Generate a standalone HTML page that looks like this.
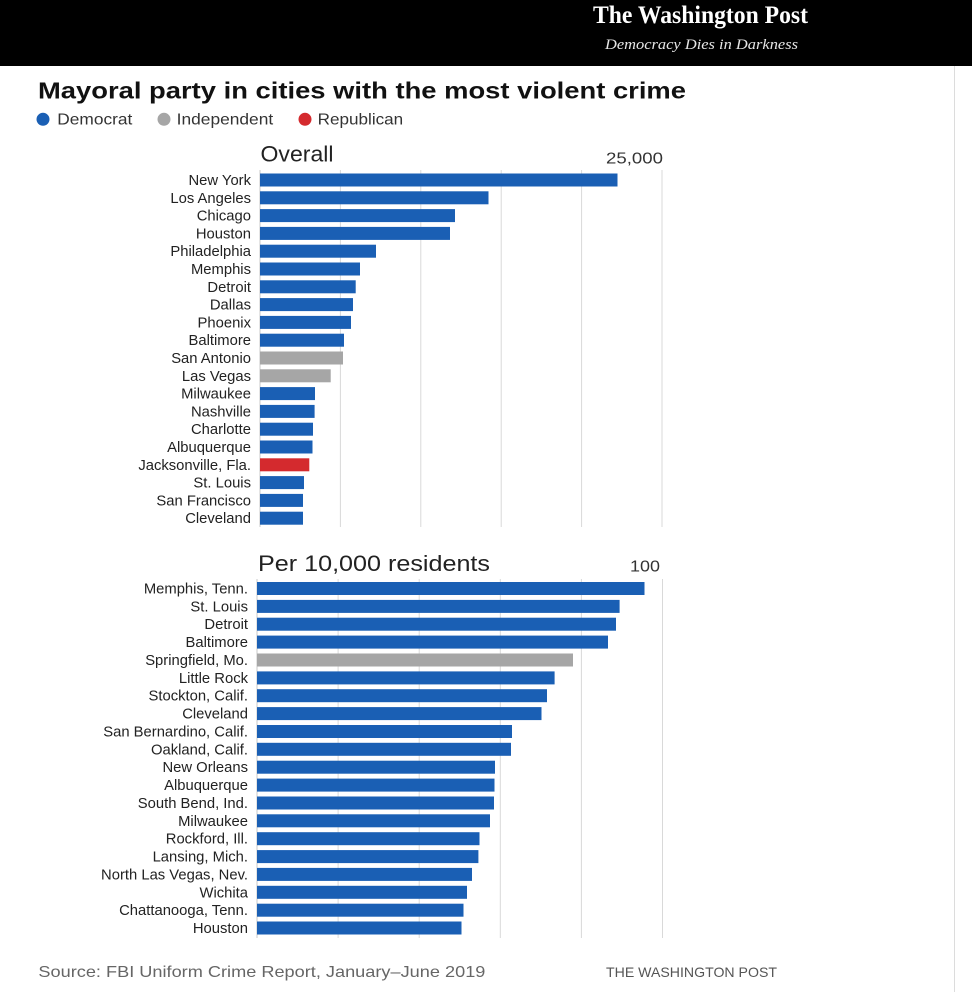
<!DOCTYPE html>
<html>
<head>
<meta charset="utf-8">
<style>
html,body{margin:0;padding:0;background:#fff;}
svg{display:block;}
text{font-family:"Liberation Sans",sans-serif;}
</style>
</head>
<body>
<svg width="972" height="992" viewBox="0 0 972 992" xmlns="http://www.w3.org/2000/svg">
<rect x="0" y="0" width="972" height="992" fill="#fff"/>
<!-- header -->
<rect x="0" y="0" width="972" height="66" fill="#000"/>
<text x="593" y="23" font-family="Liberation Serif, serif" font-weight="bold" font-size="25" fill="#fff" textLength="215" lengthAdjust="spacingAndGlyphs" style="font-family:'Liberation Serif',serif">The Washington Post</text>
<text x="605" y="49" font-style="italic" font-size="14.5" fill="#e6e6e6" textLength="193" lengthAdjust="spacingAndGlyphs" style="font-family:'Liberation Serif',serif">Democracy Dies in Darkness</text>
<!-- right border line -->
<line x1="954.5" y1="66" x2="954.5" y2="992" stroke="#dcdcdc" stroke-width="1"/>

<!-- title -->
<text x="38" y="98.5" font-size="23" font-weight="bold" fill="#111" textLength="648" lengthAdjust="spacingAndGlyphs">Mayoral party in cities with the most violent crime</text>
<!-- legend -->
<circle cx="43" cy="119.3" r="6.5" fill="#1a5fb4"/>
<text x="57.3" y="124.5" font-size="16" fill="#333" textLength="75" lengthAdjust="spacingAndGlyphs">Democrat</text>
<circle cx="164" cy="119.3" r="6.5" fill="#a6a6a6"/>
<text x="176.7" y="124.5" font-size="16" fill="#333" textLength="96.5" lengthAdjust="spacingAndGlyphs">Independent</text>
<circle cx="305" cy="119.3" r="6.5" fill="#d42a2e"/>
<text x="317.7" y="124.5" font-size="16" fill="#333" textLength="85.5" lengthAdjust="spacingAndGlyphs">Republican</text>

<!-- TOP CHART -->
<text x="260.5" y="161.5" font-size="22" fill="#222" textLength="73" lengthAdjust="spacingAndGlyphs">Overall</text>
<text x="606" y="163.3" font-size="16" fill="#333" textLength="57" lengthAdjust="spacingAndGlyphs">25,000</text>
<g stroke="#d9d9d9" stroke-width="1">
<line x1="260" y1="170" x2="260" y2="527" stroke="#c8c8c8"/>
<line x1="340.4" y1="170" x2="340.4" y2="527"/>
<line x1="420.8" y1="170" x2="420.8" y2="527"/>
<line x1="501.2" y1="170" x2="501.2" y2="527"/>
<line x1="581.6" y1="170" x2="581.6" y2="527"/>
<line x1="662" y1="170" x2="662" y2="527"/>
</g>
<g font-size="14.8" fill="#222" text-anchor="end">
<text x="251" y="185">New York</text>
<text x="251" y="202.8">Los Angeles</text>
<text x="251" y="220.6">Chicago</text>
<text x="251" y="238.4">Houston</text>
<text x="251" y="256.2">Philadelphia</text>
<text x="251" y="274">Memphis</text>
<text x="251" y="291.8">Detroit</text>
<text x="251" y="309.6">Dallas</text>
<text x="251" y="327.4">Phoenix</text>
<text x="251" y="345.2">Baltimore</text>
<text x="251" y="363">San Antonio</text>
<text x="251" y="380.8">Las Vegas</text>
<text x="251" y="398.6">Milwaukee</text>
<text x="251" y="416.4">Nashville</text>
<text x="251" y="434.2">Charlotte</text>
<text x="251" y="452">Albuquerque</text>
<text x="251" y="469.8">Jacksonville, Fla.</text>
<text x="251" y="487.6">St. Louis</text>
<text x="251" y="505.4">San Francisco</text>
<text x="251" y="523.2">Cleveland</text>
</g>
<g>
<rect x="260" y="173.5" width="357.5" height="13" fill="#1a5fb4"/>
<rect x="260" y="191.3" width="228.5" height="13" fill="#1a5fb4"/>
<rect x="260" y="209.1" width="195" height="13" fill="#1a5fb4"/>
<rect x="260" y="226.9" width="190" height="13" fill="#1a5fb4"/>
<rect x="260" y="244.7" width="116" height="13" fill="#1a5fb4"/>
<rect x="260" y="262.5" width="100" height="13" fill="#1a5fb4"/>
<rect x="260" y="280.3" width="95.7" height="13" fill="#1a5fb4"/>
<rect x="260" y="298.1" width="93" height="13" fill="#1a5fb4"/>
<rect x="260" y="315.9" width="91" height="13" fill="#1a5fb4"/>
<rect x="260" y="333.7" width="84" height="13" fill="#1a5fb4"/>
<rect x="260" y="351.5" width="83" height="13" fill="#a6a6a6"/>
<rect x="260" y="369.3" width="70.7" height="13" fill="#a6a6a6"/>
<rect x="260" y="387.1" width="55" height="13" fill="#1a5fb4"/>
<rect x="260" y="404.9" width="54.6" height="13" fill="#1a5fb4"/>
<rect x="260" y="422.7" width="53" height="13" fill="#1a5fb4"/>
<rect x="260" y="440.5" width="52.5" height="13" fill="#1a5fb4"/>
<rect x="260" y="458.3" width="49.3" height="13" fill="#d42a2e"/>
<rect x="260" y="476.1" width="44" height="13" fill="#1a5fb4"/>
<rect x="260" y="493.9" width="43" height="13" fill="#1a5fb4"/>
<rect x="260" y="511.7" width="43" height="13" fill="#1a5fb4"/>
</g>

<!-- BOTTOM CHART -->
<text x="258" y="571" font-size="22" fill="#222" textLength="232" lengthAdjust="spacingAndGlyphs">Per 10,000 residents</text>
<text x="630" y="571.5" font-size="16" fill="#333" textLength="30" lengthAdjust="spacingAndGlyphs">100</text>
<g stroke="#d9d9d9" stroke-width="1">
<line x1="257" y1="579" x2="257" y2="938" stroke="#c8c8c8"/>
<line x1="338.1" y1="579" x2="338.1" y2="938"/>
<line x1="419.2" y1="579" x2="419.2" y2="938"/>
<line x1="500.3" y1="579" x2="500.3" y2="938"/>
<line x1="581.4" y1="579" x2="581.4" y2="938"/>
<line x1="662.5" y1="579" x2="662.5" y2="938"/>
</g>
<g font-size="14.8" fill="#222" text-anchor="end">
<text x="248" y="593.5">Memphis, Tenn.</text>
<text x="248" y="611.4">St. Louis</text>
<text x="248" y="629.2">Detroit</text>
<text x="248" y="647.1">Baltimore</text>
<text x="248" y="665">Springfield, Mo.</text>
<text x="248" y="682.9">Little Rock</text>
<text x="248" y="700.7">Stockton, Calif.</text>
<text x="248" y="718.6">Cleveland</text>
<text x="248" y="736.5">San Bernardino, Calif.</text>
<text x="248" y="754.3">Oakland, Calif.</text>
<text x="248" y="772.2">New Orleans</text>
<text x="248" y="790.1">Albuquerque</text>
<text x="248" y="808">South Bend, Ind.</text>
<text x="248" y="825.8">Milwaukee</text>
<text x="248" y="843.7">Rockford, Ill.</text>
<text x="248" y="861.6">Lansing, Mich.</text>
<text x="248" y="879.4">North Las Vegas, Nev.</text>
<text x="248" y="897.3">Wichita</text>
<text x="248" y="915.2">Chattanooga, Tenn.</text>
<text x="248" y="933">Houston</text>
</g>
<g>
<rect x="257" y="582" width="387.5" height="13" fill="#1a5fb4"/>
<rect x="257" y="599.9" width="362.6" height="13" fill="#1a5fb4"/>
<rect x="257" y="617.7" width="359" height="13" fill="#1a5fb4"/>
<rect x="257" y="635.6" width="351" height="13" fill="#1a5fb4"/>
<rect x="257" y="653.5" width="316" height="13" fill="#a6a6a6"/>
<rect x="257" y="671.4" width="297.6" height="13" fill="#1a5fb4"/>
<rect x="257" y="689.2" width="290" height="13" fill="#1a5fb4"/>
<rect x="257" y="707.1" width="284.5" height="13" fill="#1a5fb4"/>
<rect x="257" y="725" width="255" height="13" fill="#1a5fb4"/>
<rect x="257" y="742.8" width="254" height="13" fill="#1a5fb4"/>
<rect x="257" y="760.7" width="238" height="13" fill="#1a5fb4"/>
<rect x="257" y="778.6" width="237.5" height="13" fill="#1a5fb4"/>
<rect x="257" y="796.5" width="237" height="13" fill="#1a5fb4"/>
<rect x="257" y="814.3" width="233" height="13" fill="#1a5fb4"/>
<rect x="257" y="832.2" width="222.5" height="13" fill="#1a5fb4"/>
<rect x="257" y="850.1" width="221.4" height="13" fill="#1a5fb4"/>
<rect x="257" y="867.9" width="215" height="13" fill="#1a5fb4"/>
<rect x="257" y="885.8" width="210" height="13" fill="#1a5fb4"/>
<rect x="257" y="903.7" width="206.5" height="13" fill="#1a5fb4"/>
<rect x="257" y="921.5" width="204.5" height="13" fill="#1a5fb4"/>
</g>

<!-- footer -->
<text x="38.4" y="977" font-size="16" fill="#666" textLength="447" lengthAdjust="spacingAndGlyphs">Source: FBI Uniform Crime Report, January–June 2019</text>
<text x="606" y="977" font-size="14" fill="#555" textLength="171" lengthAdjust="spacingAndGlyphs">THE WASHINGTON POST</text>
</svg>
</body>
</html>
